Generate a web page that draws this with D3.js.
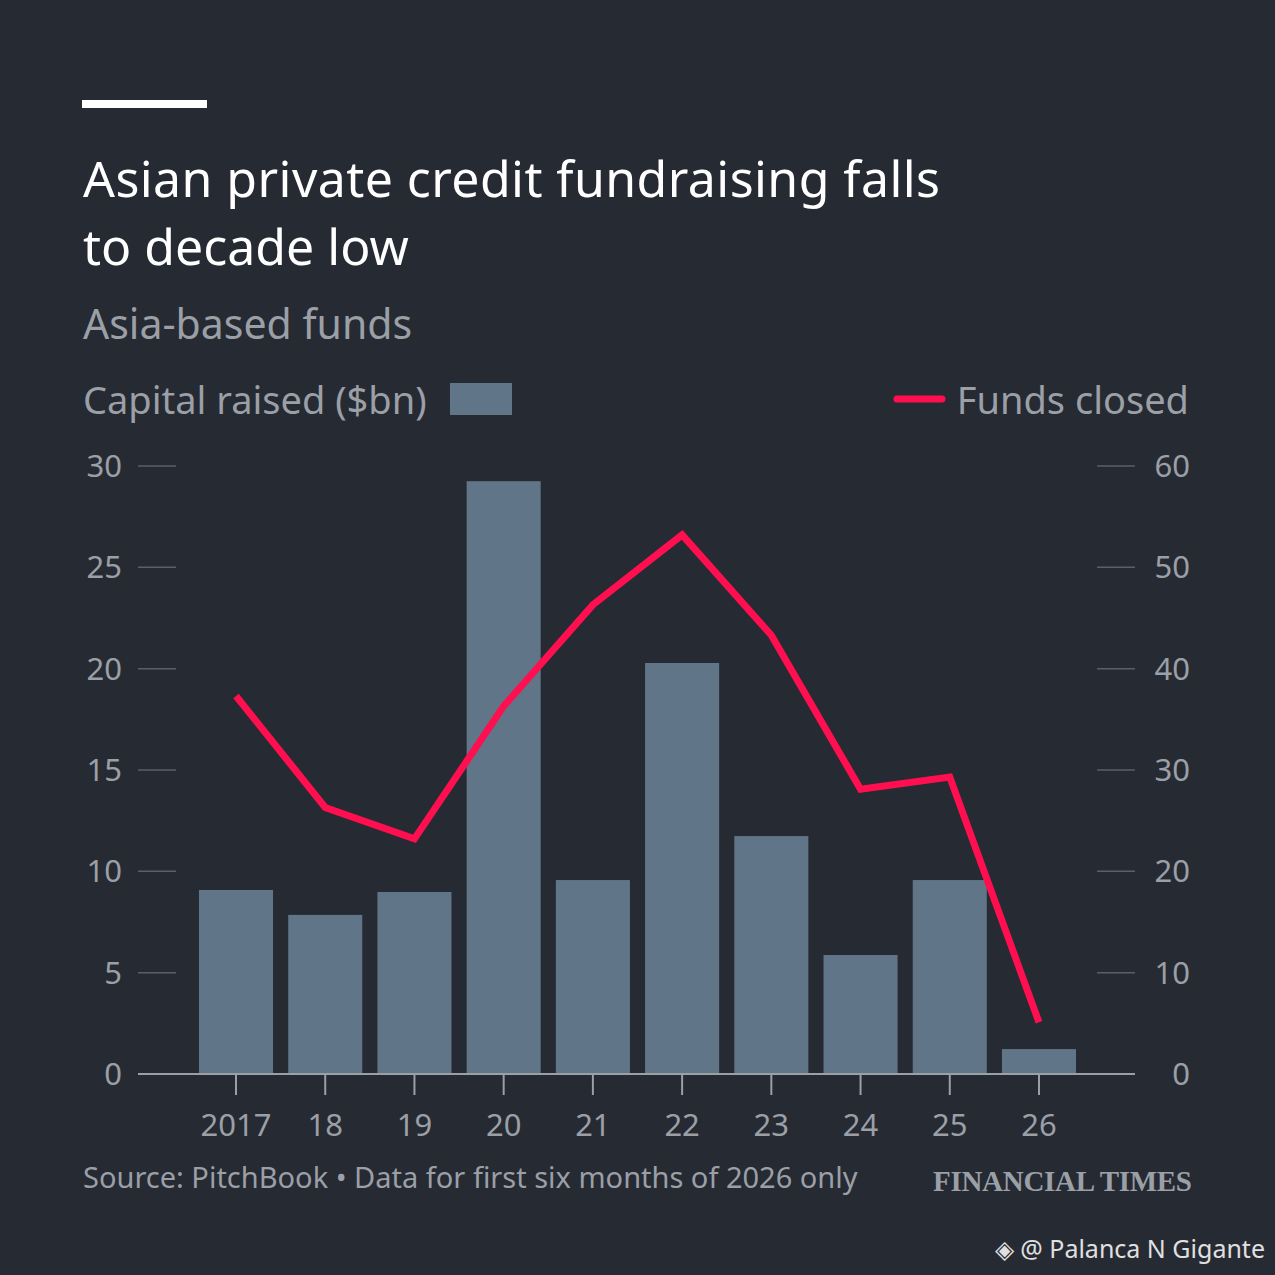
<!DOCTYPE html>
<html><head><meta charset="utf-8">
<script src="https://cdn.jsdelivr.net/npm/d3@7"></script>
<style>body{margin:0;background:#262a33;}svg{display:block;font-family:"Noto Sans",sans-serif;}</style>
</head><body><svg id="c" width="1275" height="1275"></svg>
<script>
const years=["2017","18","19","20","21","22","23","24","25","26"];
const capital=[9.08,7.85,8.98,29.25,9.57,20.28,11.74,5.87,9.57,1.23];
const funds=[37.3,26.3,23.2,36.3,46.3,53.2,43.3,28.1,29.3,5.1];
const leftTicks=[0,5,10,15,20,25,30];
const rightTicks=[0,10,20,30,40,50,60];
const svg=d3.select("#c");
svg.append("rect").attr("width",1275).attr("height",1275).attr("fill","#262a33");
const grey="#9b9fa6";
svg.append("rect").attr("x",82).attr("y",100).attr("width",125).attr("height",8).attr("fill","#fff");
svg.append("text").attr("x",83).attr("y",197).attr("fill","#fff").attr("font-size",50).attr("textLength",857).text("Asian private credit fundraising falls");
svg.append("text").attr("x",83).attr("y",265).attr("fill","#fff").attr("font-size",50).text("to decade low");
svg.append("text").attr("x",83).attr("y",339).attr("fill",grey).attr("font-size",41).text("Asia-based funds");
svg.append("text").attr("x",83).attr("y",414).attr("fill",grey).attr("font-size",38).text("Capital raised ($bn)");
svg.append("rect").attr("x",450).attr("y",383).attr("width",62).attr("height",32).attr("fill","#617588");
svg.append("line").attr("x1",897).attr("x2",942).attr("y1",399).attr("y2",399).attr("stroke","#ff0f50").attr("stroke-width",7).attr("stroke-linecap","round");
svg.append("text").attr("x",1189).attr("y",414).attr("text-anchor","end").attr("fill",grey).attr("font-size",38).text("Funds closed");
const x=d3.scaleBand().domain(years).range([191.4,1083.6]).paddingInner(0.17).paddingOuter(0.085);
const yL=d3.scaleLinear().domain([0,30]).range([1074,466]);
const yR=d3.scaleLinear().domain([0,60]).range([1074,466]);
leftTicks.forEach(t=>{
  if(t>0)svg.append("line").attr("x1",138).attr("x2",176).attr("y1",yL(t)).attr("y2",yL(t)).attr("stroke","#5a5f68").attr("stroke-width",1.5);
  svg.append("text").attr("x",122).attr("y",yL(t)+11).attr("text-anchor","end").attr("fill",grey).attr("font-size",31).text(t);
});
rightTicks.forEach(t=>{
  if(t>0)svg.append("line").attr("x1",1097).attr("x2",1135).attr("y1",yR(t)).attr("y2",yR(t)).attr("stroke","#5a5f68").attr("stroke-width",1.5);
  svg.append("text").attr("x",1190).attr("y",yR(t)+11).attr("text-anchor","end").attr("fill",grey).attr("font-size",31).text(t);
});
svg.selectAll("rect.bar").data(capital).join("rect").attr("class","bar")
 .attr("x",(d,i)=>x(years[i])).attr("width",x.bandwidth()).attr("y",d=>yL(d)).attr("height",d=>yL(0)-yL(d)).attr("fill","#617588");
svg.append("line").attr("x1",138).attr("x2",1135).attr("y1",1074).attr("y2",1074).attr("stroke","#9b9fa6").attr("stroke-width",2);
years.forEach(y=>{
  const cx=x(y)+x.bandwidth()/2;
  svg.append("line").attr("x1",cx).attr("x2",cx).attr("y1",1074).attr("y2",1095).attr("stroke","#9b9fa6").attr("stroke-width",2);
  svg.append("text").attr("x",cx).attr("y",1136).attr("text-anchor","middle").attr("fill",grey).attr("font-size",31).text(y);
});
const line=d3.line().x((d,i)=>x(years[i])+x.bandwidth()/2).y(d=>yR(d));
svg.append("path").datum(funds).attr("d",line).attr("fill","none").attr("stroke","#ff0f50").attr("stroke-width",7).attr("stroke-linejoin","miter");
svg.append("text").attr("x",83).attr("y",1188).attr("fill",grey).attr("font-size",29).text("Source: PitchBook • Data for first six months of 2026 only");
svg.append("text").attr("x",1192).attr("y",1191).attr("text-anchor","end").attr("fill",grey).attr("font-size",29).attr("font-weight","bold").attr("font-family","Liberation Serif,serif").attr("textLength",259).text("FINANCIAL TIMES");
svg.append("text").attr("x",1265).attr("y",1258).attr("text-anchor","end").attr("fill","#e0e0e0").attr("font-size",25).text("◈ @ Palanca N Gigante");
</script></body></html>
